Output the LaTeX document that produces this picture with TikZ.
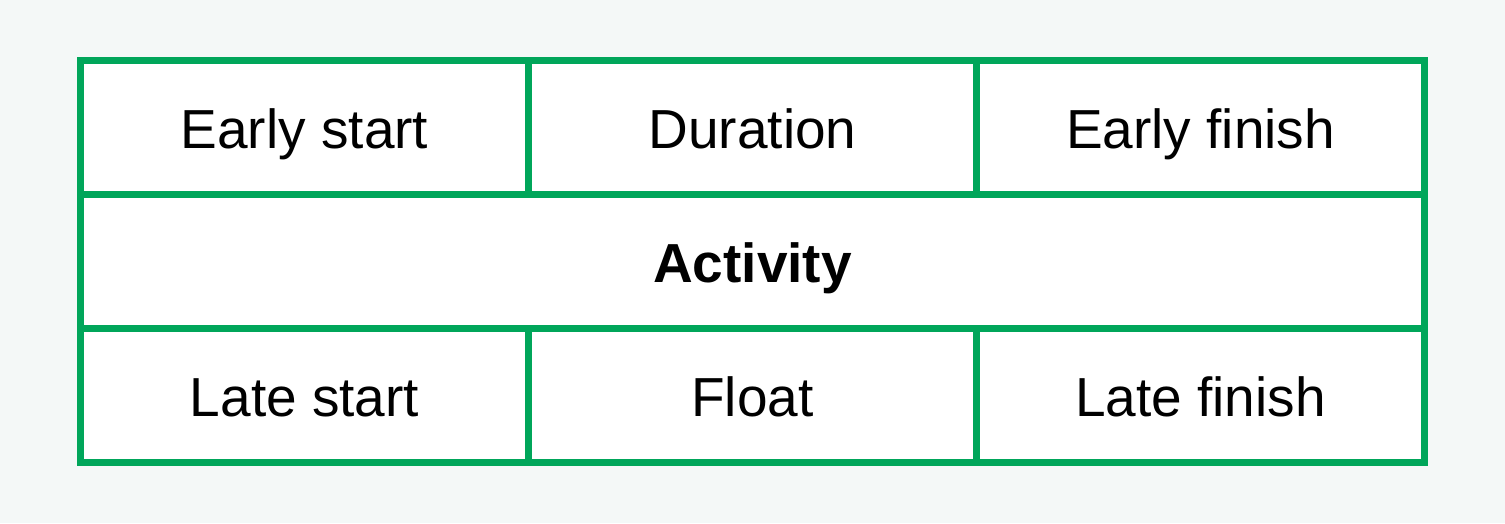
\documentclass[tikz,border=0pt]{standalone}
\usepackage{fontspec}
\setmainfont{Liberation Sans}
\definecolor{cpmgreen}{HTML}{00A65A}
\definecolor{bgpaper}{HTML}{F4F8F7}
\begin{document}
\begin{tikzpicture}[x=1pt,y=-1pt,
  cell/.style={draw=cpmgreen, fill=white, line width=7pt, inner sep=0pt,
    minimum width=448pt, minimum height=134pt, text height=41pt, text depth=0pt,
    font=\fontsize{55}{60}\selectfont}]
\def\w{448}
\def\h{134}
\fill[bgpaper] (0,0) rectangle (1505,523);
\useasboundingbox (0,0) rectangle (1505,523);
% top row
\node [cell, name=es] at (304.5,127.5) {Early start};
\node [cell, name=du] at (752.5,127.5) {Duration};
\node [cell, name=ef] at (1200.5,127.5) {Early finish};
% middle row
\node [cell, minimum width=3*\w pt, font=\fontsize{55}{60}\selectfont\bfseries, name=act] at (752.5,261.5) {Activity};
% bottom row
\node [cell, name=ls] at (304.5,395.5) {Late start};
\node [cell, name=fl] at (752.5,395.5) {Float};
\node [cell, name=lf] at (1200.5,395.5) {Late finish};
\end{tikzpicture}
\end{document}
